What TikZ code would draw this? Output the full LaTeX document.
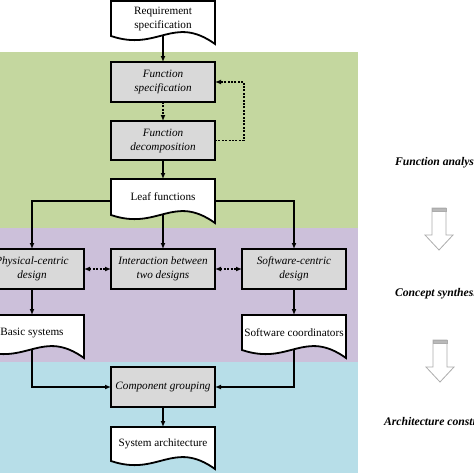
\documentclass[tikz,border=0pt]{standalone}
\usepackage{fontspec}
\setmainfont{Liberation Serif}
\usetikzlibrary{arrows.meta}
\definecolor{bandgreen}{HTML}{C4D79F}
\definecolor{bandpurple}{HTML}{CCC0DA}
\definecolor{bandblue}{HTML}{B7DEE8}
\definecolor{boxgray}{HTML}{D9D9D9}
\pgfdeclarelayer{bands}
\pgfdeclarelayer{lines}
\pgfdeclarelayer{shapes}
\pgfsetlayers{bands,lines,shapes,main}
\tikzset{
  every node/.style={font=\fontsize{11.2}{14}\selectfont, inner sep=0pt, outer sep=0pt},
  procbox/.style={draw=black, line width=1.8pt, fill=boxgray, minimum width=104pt,
    font=\fontsize{11.2}{14}\selectfont\itshape, align=center},
  docnode/.style={minimum width=104pt, align=center},
  conn/.style={line width=1.2pt, -{Latex[length=6pt,width=5pt]}},
  dotconn/.style={conn, dash pattern=on 2pt off 1.4pt},
  bothdot/.style={line width=1.2pt, dash pattern=on 2pt off 1.4pt,
    {Latex[length=6pt,width=5pt]}-{Latex[length=6pt,width=5pt]}},
  phase/.style={font=\fontsize{11.7}{13}\selectfont\bfseries\itshape, anchor=west},
  docline/.style={draw=black, line width=1.8pt, fill=white, line join=miter},
  blockarrow/.style={draw=gray!65, line width=0.8pt, fill=white},
  arrowband/.style={fill=gray!55, draw=gray!65, line width=0.6pt}
}
\newcommand{\drawdoc}[1]{%
  \path[docline] (#1.north west) -- (#1.north east) -- ([shift={(0,8)}]#1.south east)
    .. controls ([shift={(62,-22)}]#1.south west) and ([shift={(47,16)}]#1.south west)
    .. (#1.south west) -- cycle;}
\begin{document}
\begin{tikzpicture}[x=1pt,y=-1pt]
\useasboundingbox (0,0) rectangle (474,474);
\clip (0,0) rectangle (474,474);
\begin{pgfonlayer}{bands}
  \fill[bandgreen] (0,52) rectangle (358,228);
  \fill[bandpurple] (0,228) rectangle (358,362);
  \fill[bandblue] (0,362) rectangle (358,473);
\end{pgfonlayer}

% nodes
\node[docnode, minimum height=35pt, anchor=north] (req) at (163,1) {Requirement\\specification};
\node[procbox, minimum height=40pt] (fspec) at (163,82) {Function\\specification};
\node[procbox, minimum height=39pt] (fdec) at (163,140.5) {Function\\decomposition};
\node[docnode, minimum height=36pt, anchor=north] (leaf) at (163,179) {Leaf functions};
\node[procbox, minimum height=40pt] (phys) at (32,269) {Physical-centric\\design};
\node[procbox, minimum height=40pt] (inter) at (163,269) {Interaction between\\two designs};
\node[procbox, minimum height=40pt] (soft) at (294,269) {Software-centric\\design};
\node[docnode, minimum height=35pt, anchor=north] (basic) at (32,315) {Basic systems};
\node[docnode, minimum height=35pt, anchor=north] (coord) at (294,315) {Software coordinators};
\node[procbox, minimum height=40pt] (comp) at (163,387) {Component grouping};
\node[docnode, minimum height=34pt, anchor=north] (sys) at (163,427) {System architecture};

\node[phase] (fa) at (395,163) {Function analysis};
\node[phase] (cs) at (395,294) {Concept synthesis};
\node[phase] (ac) at (384,422) {Architecture construction};

% document outlines
\begin{pgfonlayer}{shapes}
  \drawdoc{req}
  \drawdoc{leaf}
  \drawdoc{basic}
  \drawdoc{coord}
  \drawdoc{sys}
\end{pgfonlayer}

% connectors
\begin{pgfonlayer}{lines}
  \draw[conn] (req.center) -- (fspec.north);
  \draw[dotconn] (fspec.south) -- (fdec.north);
  \draw[dotconn] (fdec.east) -- ++(29,0) |- (fspec.east);
  \draw[conn] (fdec.south) -- (leaf.north);
  \draw[conn] ([yshift=-4pt]leaf.west) -| (phys.north);
  \draw[conn] ([yshift=-4pt]leaf.east) -| (soft.north);
  \draw[conn] (leaf.center) -- (inter.north);
  \draw[bothdot] (phys.east) -- (inter.west);
  \draw[bothdot] (inter.east) -- (soft.west);
  \draw[conn] (phys.south) -- (basic.north);
  \draw[conn] (soft.south) -- (coord.north);
  \draw[conn] (basic.center) |- (comp.west);
  \draw[conn] (coord.center) |- (comp.east);
  \draw[conn] (comp.south) -- (sys.north);
\end{pgfonlayer}

% phase arrows
\path[blockarrow] (432,208) -- (446,208) -- (446,235) -- (453,235) -- (439,250)
  -- (425,235) -- (432,235) -- cycle;
\path[arrowband] (432,208) rectangle (446,211.5);
\path[blockarrow] (433,340) -- (447,340) -- (447,367) -- (454,367) -- (440,382)
  -- (426,367) -- (433,367) -- cycle;
\path[arrowband] (433,340) rectangle (447,343.5);
\end{tikzpicture}
\end{document}
